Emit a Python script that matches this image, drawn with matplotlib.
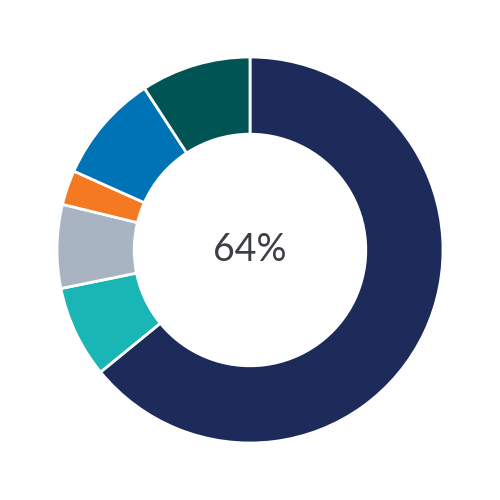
import matplotlib
matplotlib.use("Agg")
import matplotlib.pyplot as plt

labels = ["A", "B", "C", "D", "E", "F"]
values = [64.1, 7.7, 7.0, 2.9, 9.1, 9.2]
colors = ["#1d2b5a", "#1ab5b5", "#a9b4c2", "#f47920", "#0073b6", "#005454"]
center_label = "64%"

fig = plt.figure(figsize=(5, 5), dpi=100)
ax = fig.add_axes([0, 0, 1, 1])
ax.pie(values, colors=colors, startangle=90, counterclock=False, radius=1,
       wedgeprops=dict(width=0.4, edgecolor="white", linewidth=2))
ax.text(0, 0, center_label, ha="center", va="center", fontsize=27,
        color="#3d3f48", family=["Lato", "DejaVu Sans"])
lim = 250 / 193
ax.set_xlim(-lim, lim)
ax.set_ylim(-lim, lim)
ax.set_aspect("equal")
ax.axis("off")
fig.savefig("out.png", dpi=100, facecolor="white")
